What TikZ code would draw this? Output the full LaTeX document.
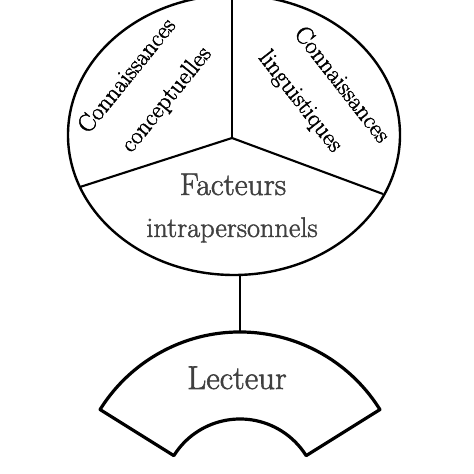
\documentclass[tikz,border=0pt]{standalone}
\usepackage{fontspec}
\setmainfont{Latin Modern Roman}[FakeBold=1.6]
\usetikzlibrary{calc}
\begin{document}
\begin{tikzpicture}[x=1pt,y=1pt,
  outline/.style={draw=black,line width=2.4pt},
  spoke/.style={draw=black,line width=2.1pt},
  link/.style={draw=black,line width=2pt},
  fan/.style={draw=black,line width=3.2pt,line join=round},
  sidetext/.style={inner sep=0pt,font=\fontsize{24.5}{28}\selectfont,text=black},
  midtext/.style={inner sep=0pt,anchor=base,text=black!75}]
\useasboundingbox (0,0) rectangle (474,474);
\clip (0,0) rectangle (474,474);
% main ellipse
\draw[outline] (234,339) ellipse [x radius=166, y radius=140];
% spokes
\coordinate (hub) at (232,336);
\coordinate (ptop) at (232,484);
\coordinate (pleft) at (80,287);
\coordinate (pright) at (383,280);
\draw[spoke] (hub) -- (ptop);
\draw[spoke] (hub) -- (pleft);
\draw[spoke] (hub) -- (pright);
% texts in sectors
\node[sidetext,rotate=51] (c1) at (126,399) {Connaissances};
\node[sidetext,rotate=51] (c2) at (167,374) {conceptuelles};
\node[sidetext,rotate=-52] (l1) at (343,390) {Connaissances};
\node[sidetext,rotate=-52] (l2) at (300,372) {linguistiques};
\node[midtext,font=\fontsize{31.5}{36}\selectfont] (f1) at (233,279) {Facteurs};
\node[midtext,font=\fontsize{28.3}{32}\selectfont] (f2) at (232,237) {intrapersonnels};
% connector
\coordinate (ellbot) at (240,199);
\coordinate (fantop) at (240,142);
\draw[link] (ellbot) -- (fantop);
% reader fan
\coordinate (fc) at (240,-23);
\draw[fan] ($(fc)+(32:165)$) arc[start angle=32,end angle=148,radius=165]
  -- ($(fc)+(148:78)$) arc[start angle=148,end angle=32,radius=78] -- cycle;
\node[midtext,font=\fontsize{33}{38}\selectfont] (lec) at (237,85) {Lecteur};
\end{tikzpicture}
\end{document}
